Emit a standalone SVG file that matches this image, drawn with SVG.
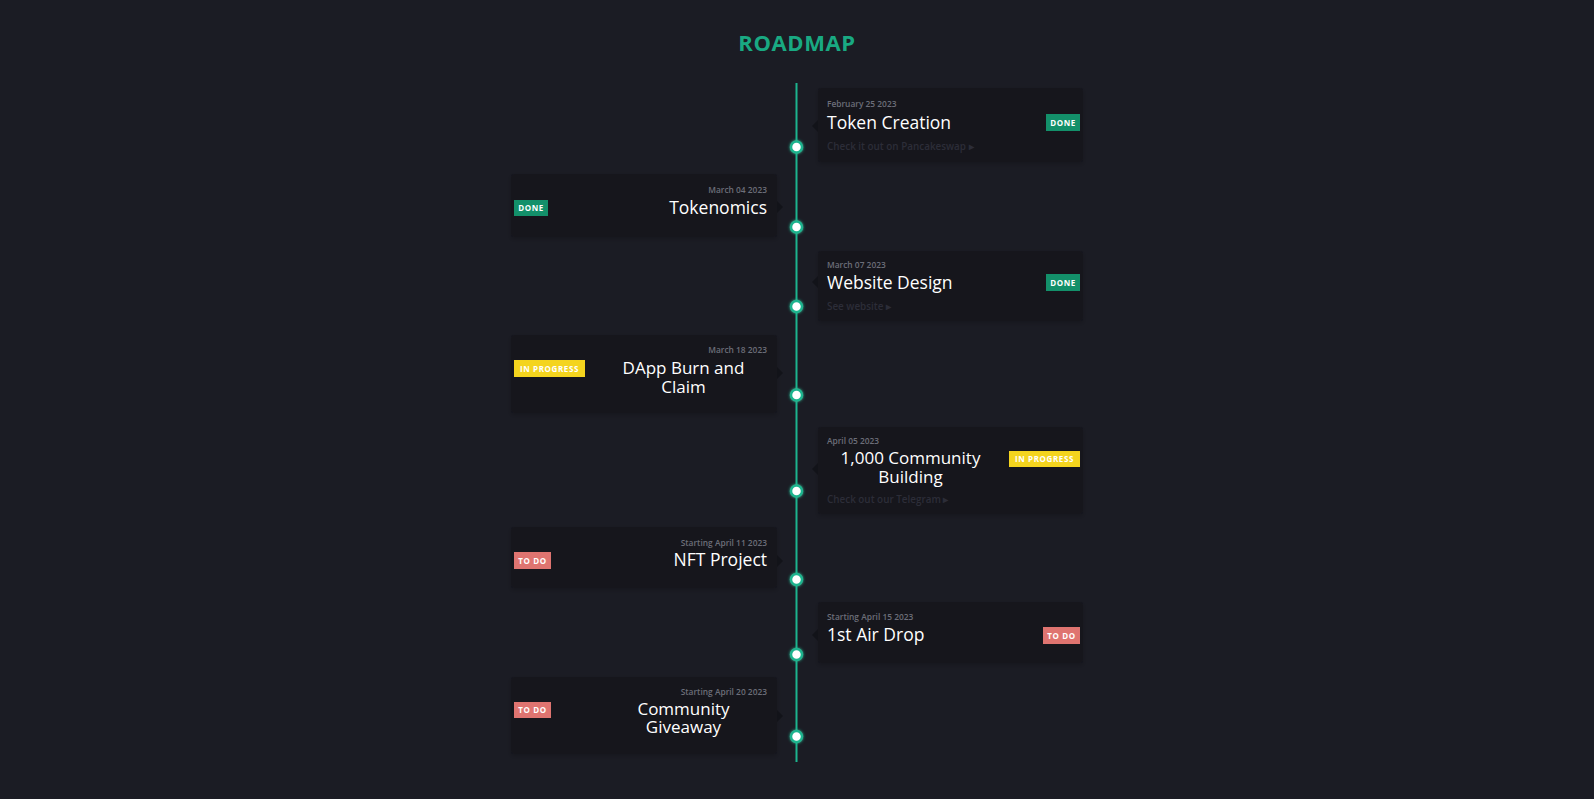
<svg xmlns="http://www.w3.org/2000/svg" width="1594" height="799" viewBox="0 0 1594 799">
<defs>
<style>
text{font-family:"Open Sans","Liberation Sans",sans-serif}
.card{fill:#14151c}
.ptr{fill:#121319}
.date{font-size:8.4px;font-weight:600;fill:#6c6e79}
.title{font-size:17.5px;fill:#ffffff}
.title2{font-size:17px;fill:#ffffff}
.link{font-size:9.9px;font-weight:600;fill:#2c2d38}
.btxt{font-size:8px;font-weight:700;fill:#ffffff;letter-spacing:0.6px}
.done{fill:#13906a}
.prog{fill:#f4d41e}
.todo{fill:#df7470}
.dot{fill:#ffffff;stroke:#1db48e;stroke-width:2.5}
</style>
<filter id="sh" x="-10%" y="-20%" width="120%" height="140%">
<feDropShadow dx="0" dy="2" stdDeviation="2.5" flood-color="#000" flood-opacity="0.2"/>
</filter>
<filter id="glow" x="-100%" y="-100%" width="300%" height="300%">
<feGaussianBlur stdDeviation="1.5" result="b"/>
<feMerge><feMergeNode in="b"/><feMergeNode in="SourceGraphic"/></feMerge>
</filter>
</defs>
<rect width="1594" height="799" fill="#1b1c24"/>
<text x="797" y="51" text-anchor="middle" style="font-family:'Open Sans','Liberation Sans',sans-serif;font-size:22px;font-weight:700;fill:#19a982;letter-spacing:0.6px">ROADMAP</text>

<g id="connectors">
<line x1="796.5" y1="83" x2="796.5" y2="762" stroke="#1db48e" stroke-width="2"/>
</g>

<g id="n1">
<rect class="card" x="818" y="88" width="265" height="74" rx="3" filter="url(#sh)"/>
<polygon class="ptr" points="818,120 812,126 818,132"/>
<text class="date" x="827" y="106.5">February 25 2023</text>
<text class="title" x="827" y="129">Token Creation</text>
<text class="link" x="827" y="150">Check it out on Pancakeswap ▸</text>
<rect class="done" x="1046" y="114" width="34" height="17"/>
<text class="btxt" x="1063" y="125.5" text-anchor="middle">DONE</text>
<circle class="dot" cx="796.5" cy="147" r="5.5" filter="url(#glow)"/>
</g>

<g id="n2">
<rect class="card" x="511" y="174" width="266" height="63" rx="3" filter="url(#sh)"/>
<polygon class="ptr" points="777,201 783,207 777,213"/>
<text class="date" x="767" y="192.5" text-anchor="end">March 04 2023</text>
<text class="title" x="767" y="213.5" text-anchor="end">Tokenomics</text>
<rect class="done" x="514" y="200" width="34" height="16"/>
<text class="btxt" x="531" y="211" text-anchor="middle">DONE</text>
<circle class="dot" cx="796.5" cy="227" r="5.5" filter="url(#glow)"/>
</g>

<g id="n3">
<rect class="card" x="818" y="251" width="265" height="70" rx="3" filter="url(#sh)"/>
<polygon class="ptr" points="818,276 812,282 818,288"/>
<text class="date" x="827" y="267.5">March 07 2023</text>
<text class="title" x="827" y="288.5">Website Design</text>
<text class="link" x="827" y="310">See website ▸</text>
<rect class="done" x="1046" y="274" width="34" height="17"/>
<text class="btxt" x="1063" y="285.5" text-anchor="middle">DONE</text>
<circle class="dot" cx="796.5" cy="306.5" r="5.5" filter="url(#glow)"/>
</g>

<g id="n4">
<rect class="card" x="511" y="335" width="266" height="78" rx="3" filter="url(#sh)"/>
<polygon class="ptr" points="777,367 783,373 777,379"/>
<text class="date" x="767" y="352.5" text-anchor="end">March 18 2023</text>
<text class="title2" text-anchor="middle"><tspan x="683.5" y="374">DApp Burn and</tspan><tspan x="683.5" y="393">Claim</tspan></text>
<rect class="prog" x="514" y="360" width="71" height="17"/>
<text class="btxt" x="549.5" y="371.5" text-anchor="middle">IN PROGRESS</text>
<circle class="dot" cx="796.5" cy="395" r="5.5" filter="url(#glow)"/>
</g>

<g id="n5">
<rect class="card" x="818" y="427" width="265" height="87" rx="3" filter="url(#sh)"/>
<polygon class="ptr" points="818,463 812,469 818,475"/>
<text class="date" x="827" y="444">April 05 2023</text>
<text class="title2" text-anchor="middle"><tspan x="910.5" y="464">1,000 Community</tspan><tspan x="910.5" y="483">Building</tspan></text>
<text class="link" x="827" y="502.5">Check out our Telegram ▸</text>
<rect class="prog" x="1009" y="451" width="71" height="16"/>
<text class="btxt" x="1044.5" y="462" text-anchor="middle">IN PROGRESS</text>
<circle class="dot" cx="796.5" cy="491" r="5.5" filter="url(#glow)"/>
</g>

<g id="n6">
<rect class="card" x="511" y="527" width="266" height="61" rx="3" filter="url(#sh)"/>
<polygon class="ptr" points="777,555 783,561 777,567"/>
<text class="date" x="767" y="546" text-anchor="end">Starting April 11 2023</text>
<text class="title" x="767" y="566" text-anchor="end">NFT Project</text>
<rect class="todo" x="514" y="552" width="37" height="17"/>
<text class="btxt" x="532.5" y="563.5" text-anchor="middle">TO DO</text>
<circle class="dot" cx="796.5" cy="579.5" r="5.5" filter="url(#glow)"/>
</g>

<g id="n7">
<rect class="card" x="818" y="602" width="265" height="61" rx="3" filter="url(#sh)"/>
<polygon class="ptr" points="818,629 812,635 818,641"/>
<text class="date" x="827" y="620">Starting April 15 2023</text>
<text class="title" x="827" y="641">1st Air Drop</text>
<rect class="todo" x="1043" y="627" width="37" height="17"/>
<text class="btxt" x="1061.5" y="638.5" text-anchor="middle">TO DO</text>
<circle class="dot" cx="796.5" cy="654.5" r="5.5" filter="url(#glow)"/>
</g>

<g id="n8">
<rect class="card" x="511" y="677" width="266" height="77" rx="3" filter="url(#sh)"/>
<polygon class="ptr" points="777,710 783,716 777,722"/>
<text class="date" x="767" y="695" text-anchor="end">Starting April 20 2023</text>
<text class="title2" text-anchor="middle"><tspan x="683.5" y="714.5">Community</tspan><tspan x="683.5" y="733">Giveaway</tspan></text>
<rect class="todo" x="514" y="702" width="37" height="16"/>
<text class="btxt" x="532.5" y="713" text-anchor="middle">TO DO</text>
<circle class="dot" cx="796.5" cy="736.5" r="5.5" filter="url(#glow)"/>
</g>
</svg>
